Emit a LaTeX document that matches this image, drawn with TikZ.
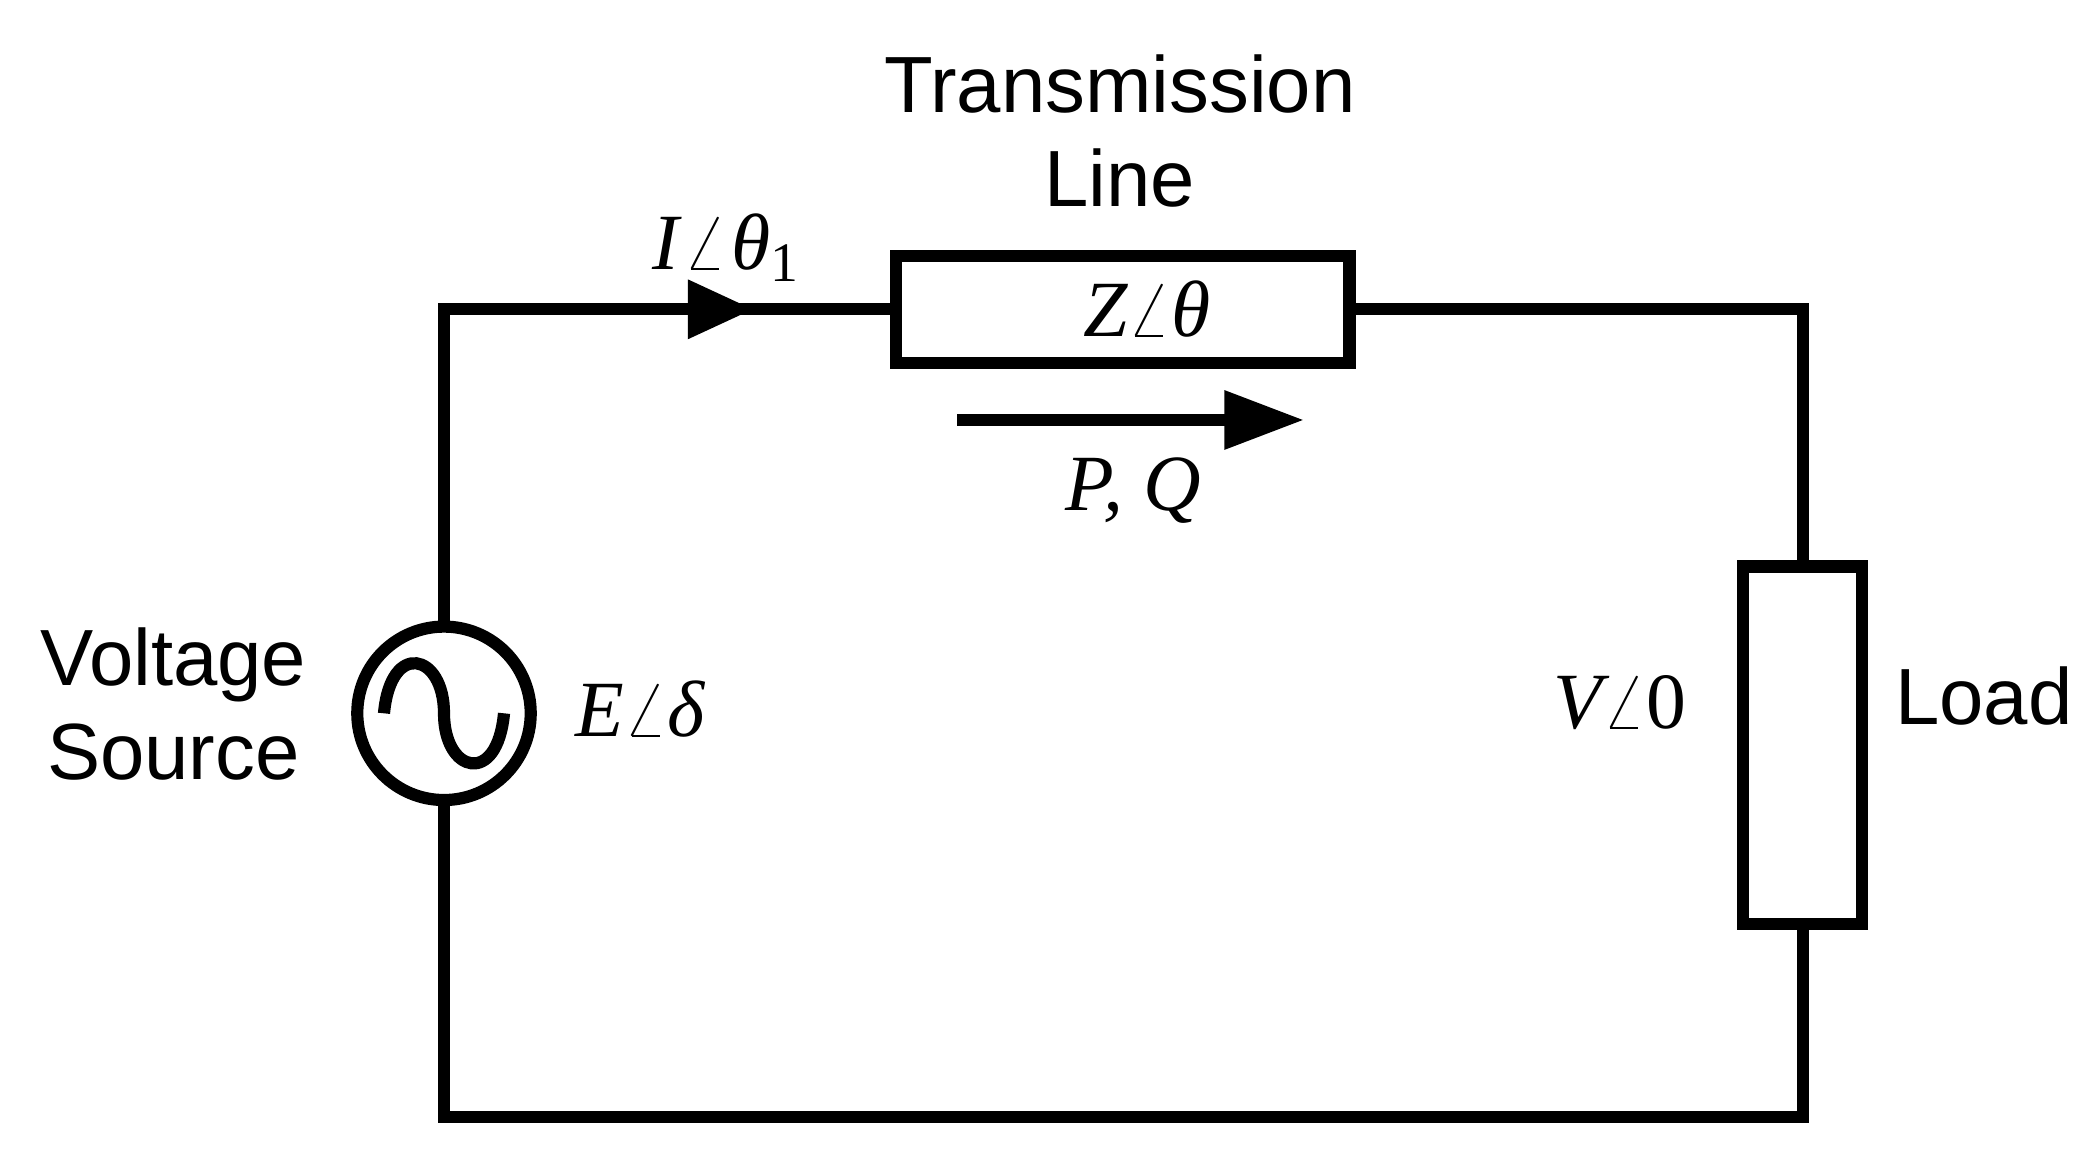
\documentclass[tikz,border=0pt]{standalone}
\usepackage{fontspec}
\setmainfont{Liberation Sans}
\newfontfamily\serifit{Liberation Serif}
\usetikzlibrary{arrows.meta,decorations.markings,calc}
\begin{document}
\begin{tikzpicture}[x=0.01cm,y=-0.01cm,
  wire/.style={line width=2.6pt},
  box/.style={draw,line width=2.6pt,inner sep=0pt},
  lbl/.style={font=\fontsize{17}{20}\selectfont,align=center},
  mlbl/.style={font=\fontsize{17}{20}\selectfont}]
\useasboundingbox (0,0) rectangle (1563,868);
% nodes
\node[box,minimum width=3.4cm,minimum height=0.8cm] (tl) at (842,232) {};
\node[box,minimum width=0.89cm,minimum height=2.68cm] (ld) at (1352,559) {};
\node[draw,circle,line width=2.6pt,minimum size=1.3cm] (src) at (333,535) {};
\coordinate (tlft) at (333,232);
\coordinate (trgt) at (1352,232);
\coordinate (blft) at (333,838);
\coordinate (brgt) at (1352,838);
% wires
\draw[wire,decoration={markings,mark=at position 0.82 with {\arrow{Triangle[length=14pt,width=12pt]}}},postaction={decorate}] (src.north) -- (tlft) -- (tl.west);
\draw[wire] (tl.east) -- (trgt) -- (ld.north);
\draw[wire] (ld.south) -- (brgt) -- (blft) -- (src.south);
% sine in source
\draw[line width=2.6pt] ($(src.center)+(-45,0)$) .. controls ($(src.center)+(-40,-55)$) and ($(src.center)+(0,-45)$) .. (src.center) .. controls ($(src.center)+(0,45)$) and ($(src.center)+(40,55)$) .. ($(src.center)+(45,0)$);
% power flow arrow
\coordinate (pqa) at (718,315);
\coordinate (pqb) at (978,315);
\draw[wire,-{Triangle[length=17pt,width=12pt]}] (pqa) -- (pqb);
% labels
\node[lbl] (tlt) at (840,98) {Transmission\\Line};
\node[lbl] (vs) at (130,528) {Voltage\\Source};
\node[lbl] (ldt) at (1488,522) {Load};
\node[mlbl] (il) at (545,186) {\serifit\itshape I\kern1pt$\angle$\kern1pt θ\textsubscript{\upshape1}};
\node[mlbl] (zl) at (860,232) {\serifit\itshape Z$\angle$θ};
\node[mlbl] (pql) at (850,368) {\serifit\itshape P, Q};
\node[mlbl] (el) at (480,532) {\serifit\itshape E$\angle$δ};
\node[mlbl] (vl) at (1215,527) {\serifit\itshape V$\angle$\upshape0};
\end{tikzpicture}
\end{document}
